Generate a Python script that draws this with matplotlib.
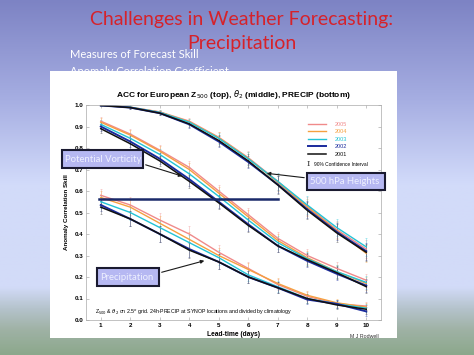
import numpy as np
import matplotlib
matplotlib.use("Agg")
import matplotlib.pyplot as plt
from matplotlib.colors import LinearSegmentedColormap
from matplotlib.patches import Rectangle, FancyArrowPatch
from matplotlib.lines import Line2D

W, H = 474, 355

days = [1, 2, 3, 4, 5, 6, 7, 8, 9, 10]
years = ['2005', '2004', '2003', '2002', '2001']
year_colors = ['#f08a8a', '#f5a040', '#22c4d6', '#1a2a9c', '#111111']
year_widths = [1.0, 1.0, 1.0, 1.4, 1.1]
err_colors = ['#f2a0a0', '#f5b060', '#50d0e0', '#4050b0', '#606060']

z500 = {
    '2005': [0.998, 0.990, 0.968, 0.925, 0.850, 0.755, 0.645, 0.530, 0.420, 0.330],
    '2004': [0.998, 0.990, 0.967, 0.922, 0.848, 0.752, 0.640, 0.525, 0.415, 0.310],
    '2003': [0.998, 0.990, 0.966, 0.920, 0.845, 0.750, 0.645, 0.535, 0.430, 0.340],
    '2002': [0.998, 0.988, 0.962, 0.910, 0.830, 0.735, 0.630, 0.515, 0.410, 0.320],
    '2001': [0.998, 0.988, 0.962, 0.912, 0.835, 0.740, 0.628, 0.510, 0.405, 0.315],
}
theta2 = {
    '2005': [0.925, 0.865, 0.790, 0.710, 0.600, 0.490, 0.380, 0.300, 0.240, 0.185],
    '2004': [0.920, 0.860, 0.785, 0.700, 0.590, 0.480, 0.370, 0.290, 0.225, 0.170],
    '2003': [0.910, 0.845, 0.770, 0.680, 0.575, 0.465, 0.360, 0.285, 0.225, 0.175],
    '2002': [0.900, 0.830, 0.750, 0.655, 0.550, 0.445, 0.345, 0.275, 0.215, 0.160],
    '2001': [0.890, 0.820, 0.740, 0.645, 0.545, 0.440, 0.345, 0.280, 0.220, 0.155],
}
precip = {
    '2005': [0.580, 0.535, 0.465, 0.400, 0.315, 0.240, 0.165, 0.110, 0.075, 0.065],
    '2004': [0.570, 0.525, 0.450, 0.375, 0.300, 0.235, 0.170, 0.115, 0.080, 0.060],
    '2003': [0.550, 0.500, 0.430, 0.360, 0.290, 0.210, 0.155, 0.100, 0.075, 0.055],
    '2002': [0.535, 0.470, 0.400, 0.330, 0.270, 0.200, 0.150, 0.095, 0.075, 0.040],
    '2001': [0.525, 0.470, 0.400, 0.325, 0.270, 0.200, 0.150, 0.100, 0.070, 0.050],
}
z500_err = [0.003, 0.005, 0.010, 0.015, 0.025, 0.030, 0.040, 0.040, 0.040, 0.040]
theta2_err = [0.020, 0.025, 0.025, 0.030, 0.030, 0.030, 0.030, 0.030, 0.030, 0.030]
precip_err = [0.030, 0.035, 0.035, 0.035, 0.035, 0.030, 0.025, 0.020, 0.020, 0.020]

yticks = [0.0, 0.1, 0.2, 0.3, 0.4, 0.5, 0.6, 0.7, 0.8, 0.9, 1.0]


def fx(px):
    return px / W


def fy(py):
    return 1 - py / H


fig = plt.figure(figsize=(W / 100, H / 100), dpi=100)

# slide background gradient
bg = fig.add_axes([0, 0, 1, 1], zorder=0)
bg_cmap = LinearSegmentedColormap.from_list('slide', [
    (0.00, '#7d83c4'), (0.28, '#a6aee2'), (0.52, '#d2dbfa'),
    (0.81, '#d2dbf8'), (0.87, '#b5c3cc'), (0.93, '#9fb2a5'), (1.00, '#8ca88c')])
bg.imshow(np.linspace(0, 1, 256).reshape(-1, 1), aspect='auto', cmap=bg_cmap,
          extent=[0, 1, 0, 1], origin='upper')
bg.axis('off')

fig.text(fx(242), fy(20), 'Challenges in Weather Forecasting:', color='#d6222a',
         fontsize=14, family='Lato', ha='center', va='center', zorder=1)
fig.text(fx(242), fy(43), 'Precipitation', color='#d6222a',
         fontsize=14, family='Lato', ha='center', va='center', zorder=1)
fig.text(fx(70), fy(55), 'Measures of Forecast Skill', color='white',
         fontsize=8, family='Lato', ha='left', va='center', zorder=1)
fig.text(fx(70), fy(71.5), 'Anomaly Correlation Coefficient', color='white',
         fontsize=8, family='Lato', ha='left', va='center', zorder=1)

# white picture panel
panel = fig.add_axes([fx(50), fy(338), fx(397) - fx(50), fy(71) - fy(338)], zorder=2)
panel.set_facecolor('white')
panel.set_xticks([])
panel.set_yticks([])
for s in panel.spines.values():
    s.set_visible(False)

ax = fig.add_axes([fx(86), fy(320), fx(381) - fx(86), fy(105) - fy(320)], zorder=3)
ax.patch.set_alpha(0)

for y, c, ec, lw in zip(years, year_colors, err_colors, year_widths):
    for group, err in ((z500, z500_err), (theta2, theta2_err), (precip, precip_err)):
        ax.errorbar(days, group[y], yerr=err, fmt='none', ecolor=ec, elinewidth=0.5,
                    capsize=1.0, capthick=0.5, alpha=0.6)
for y, c, lw in zip(years, year_colors, year_widths):
    ax.plot(days, z500[y], color=c, lw=lw, label=y)
    ax.plot(days, theta2[y], color=c, lw=lw)
    ax.plot(days, precip[y], color=c, lw=lw)

ax.set_xlim(0.5, 10.5)
ax.set_ylim(0, 1)
ax.set_xticks(days)
ax.set_yticks(yticks)
ax.set_xticklabels([str(d) for d in days], fontsize=4.5, fontweight='bold',
                   family='Liberation Sans')
ax.set_yticklabels(['%.1f' % t for t in yticks], fontsize=4.5, fontweight='bold',
                   family='Liberation Sans')
ax.tick_params(direction='in', length=2, width=0.4, color='#999999', top=True,
               right=True, pad=2)
for s in ax.spines.values():
    s.set_color('#aaaaaa')
    s.set_linewidth(0.5)
ax.set_xlabel('Lead-time (days)', fontsize=4.8, fontweight='bold',
              family='Liberation Sans', labelpad=2)
ax.set_ylabel('Anomaly Correlation Skill', fontsize=4.5, fontweight='bold',
              family='Liberation Sans', labelpad=4)
ax.set_title('ACC for European Z$_{500}$ (top), $\\theta_2$ (middle), PRECIP (bottom)',
             fontsize=6, fontweight='bold', family='Liberation Sans', pad=6)

ax.legend(loc='upper left', bbox_to_anchor=(0.735, 0.945), frameon=False,
          labelcolor='linecolor', handlelength=3.2, handletextpad=1.6,
          labelspacing=0.45, prop={'family': 'Liberation Sans', 'size': 4})
ax.text(0.752, 0.725, 'I', transform=ax.transAxes, fontsize=6, family='DejaVu Serif',
        ha='center', va='center', color='#333333')
ax.text(0.772, 0.725, '90% Confidence Interval', transform=ax.transAxes, fontsize=3.5,
        family='Liberation Sans', ha='left', va='center')
ax.text(0.03, 0.035, 'Z$_{500}$ & $\\theta_2$ on 2.5$^o$ grid. 24h-PRECIP at SYNOP locations '
        'and divided by climatology', transform=ax.transAxes, fontsize=3.8,
        family='Liberation Sans', ha='left', va='center')
fig.text(fx(379), fy(336), 'M J Rodwell', fontsize=3.8, family='Liberation Sans',
         ha='right', va='center', zorder=4, color='#333333')

# slide overlays: boxes, arrows, line
fig.add_artist(Line2D([fx(99), fx(278)], [fy(199), fy(199)], color='#1a2a6a', lw=1.8,
                      zorder=5))


def callout(x0, y0, x1, y1, label):
    fig.add_artist(Rectangle((fx(x0), fy(y1)), fx(x1) - fx(x0), fy(y0) - fy(y1),
                             facecolor='#b6b8f2', edgecolor='#1a1a30', lw=1.5,
                             zorder=6))
    fig.text(fx(x0 + 3), fy((y0 + y1) / 2), label, color='#eef0ff', fontsize=6.8,
             family='Lato', ha='left', va='center', zorder=7)


def arrow(xs, ys, xe, ye):
    fig.add_artist(FancyArrowPatch((fx(xs), fy(ys)), (fx(xe), fy(ye)),
                                   arrowstyle='-|>', mutation_scale=5, lw=0.8,
                                   color='#1a1a1a', zorder=6))


callout(62, 150, 143, 168, 'Potential Vorticity')
arrow(143, 164, 185, 177)
callout(307, 173, 385, 190, '500 hPa Heights')
arrow(307, 178, 264, 173)
callout(97, 268, 159, 286, 'Precipitation')
arrow(159, 273, 207, 260)

fig.savefig('out.png', dpi=100)
